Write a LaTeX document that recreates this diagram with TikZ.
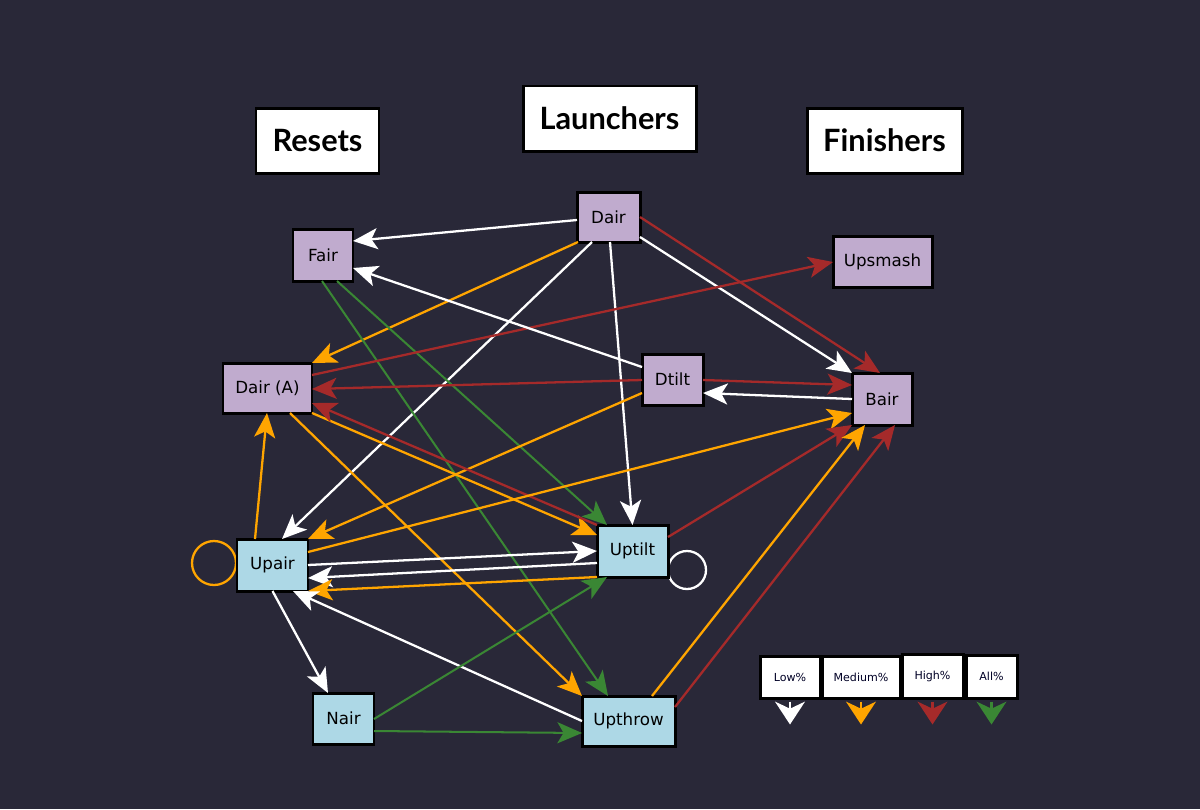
\documentclass[tikz,border=0pt]{standalone}
\usepackage{fontspec}
\setmainfont{DejaVu Sans}
\newfontfamily\hdrfont{Lato}
\usetikzlibrary{arrows.meta}
\definecolor{bgc}{RGB}{41,40,56}
\definecolor{lav}{RGB}{192,171,206}
\definecolor{lblue}{RGB}{173,216,230}
\definecolor{eorange}{RGB}{255,165,0}
\definecolor{ered}{RGB}{165,42,42}
\definecolor{egreen}{RGB}{58,135,52}
\pgfdeclarelayer{bg}
\pgfsetlayers{bg,main}
\begin{document}
\begin{tikzpicture}[x=0.02cm,y=-0.02cm,
  box/.style 2 args={draw=black,line width=1.7pt,inner sep=0pt,minimum width=#1*0.02cm,minimum height=#2*0.02cm,font=\fontsize{9.5}{11}\selectfont,text=black},
  launch/.style={fill=lav},
  reset/.style={fill=lblue},
  header/.style={fill=white,font=\hdrfont\bfseries\fontsize{17.5}{21}\selectfont},
  legendbox/.style={fill=white,font=\fontsize{6.3}{7}\selectfont,text=black!85!blue},
  edge/.style={line width=1.3pt,-{Stealth[length=14pt,width=12pt,inset=3.5pt]}},
  lowE/.style={edge,draw=white},
  medE/.style={edge,draw=eorange},
  highE/.style={edge,draw=ered},
  allE/.style={edge,draw=egreen,line width=1.15pt},
  legarrow/.style={line width=1.4pt,-{Stealth[length=13pt,width=17pt,inset=4pt]}},
  loopline/.style={line width=1.3pt}
]
\useasboundingbox (0,0) rectangle (1200,809);
\begin{pgfonlayer}{bg}
\fill[bgc] (0,0) rectangle (1200,809);
\end{pgfonlayer}

% headers
\node[box={123}{65},header] (Resets) at (317.5,140.5) {Resets};
\node[box={173}{65},header] (Launchers) at (609.5,118.5) {Launchers};
\node[box={155}{65},header] (Finishers) at (884.5,140.5) {Finishers};

% move nodes
\node[box={63}{50},launch] (Dair) at (608.5,217) {Dair};
\node[box={60}{52},launch] (Fair) at (323,255) {Fair};
\node[box={99}{51},launch] (Upsmash) at (882.5,261.5) {Upsmash};
\node[box={89}{50},launch] (DairA) at (267.5,388) {Dair (A)};
\node[box={61}{51},launch] (Dtilt) at (672.5,379.5) {Dtilt};
\node[box={60}{52},launch] (Bair) at (882,399) {Bair};
\node[box={71}{52},reset] (Upair) at (272.5,565) {Upair};
\node[box={71}{52},reset] (Uptilt) at (632.5,551) {Uptilt};
\node[box={61}{51},reset] (Nair) at (343.5,718.5) {Nair};
\node[box={93}{50},reset] (Upthrow) at (628.5,721) {Upthrow};

% legend
\node[box={60}{42},legendbox] (Low) at (790,677) {Low\%};
\node[box={78}{42},legendbox] (Medium) at (861,677) {Medium\%};
\node[box={61}{44},legendbox] (High) at (932.5,676) {High\%};
\node[box={51}{43},legendbox] (All) at (991.5,676.5) {All\%};
\draw[legarrow,white] ([shift={(0,2)}]Low.south) -- ([shift={(0,25)}]Low.south);
\draw[legarrow,eorange] ([shift={(0,2)}]Medium.south) -- ([shift={(0,25)}]Medium.south);
\draw[legarrow,ered] ([shift={(0,2)}]High.south) -- ([shift={(0,25)}]High.south);
\draw[legarrow,egreen] ([shift={(0,2)}]All.south) -- ([shift={(0,25)}]All.south);

% loops
\begin{pgfonlayer}{bg}
\draw[loopline,eorange] ([shift={(-58.5,-2)}]Upair.center) circle[radius=0.44cm];
\draw[loopline,white] ([shift={(54.5,19)}]Uptilt.center) circle[radius=0.38cm];
\end{pgfonlayer}

% edges
\draw[lowE] ([shift={(-31.5,3)}]Dair.center) -- ([shift={(30,-14)}]Fair.center);
\draw[medE] ([shift={(-30.5,25)}]Dair.center) -- ([shift={(44.5,-25)}]DairA.center);
\draw[lowE] ([shift={(-16.5,25)}]Dair.center) -- ([shift={(9.5,-26)}]Upair.center);
\draw[lowE] ([shift={(1.5,25)}]Dair.center) -- ([shift={(0,-26)}]Uptilt.center);
\draw[lowE] ([shift={(31.5,20)}]Dair.center) -- ([shift={(-30,-26)}]Bair.center);
\draw[highE] ([shift={(31.5,0)}]Dair.center) -- ([shift={(-2,-26)}]Bair.center);
\draw[allE] ([shift={(14,26)}]Fair.center) -- ([shift={(-25.5,-26)}]Uptilt.center);
\draw[allE] ([shift={(-1,26)}]Fair.center) -- ([shift={(-20.5,-25)}]Upthrow.center);
\draw[highE] ([shift={(44.5,-13)}]DairA.center) -- ([shift={(-49.5,0.5)}]Upsmash.center);
\draw[lowE] ([shift={(-30.5,-12.5)}]Dtilt.center) -- ([shift={(30,13)}]Fair.center);
\draw[highE] ([shift={(-30.5,0.5)}]Dtilt.center) -- ([shift={(44.5,1)}]DairA.center);
\draw[highE] ([shift={(30.5,0.5)}]Dtilt.center) -- ([shift={(-30,-14)}]Bair.center);
\draw[lowE] ([shift={(-30,0)}]Bair.center) -- ([shift={(30.5,13.5)}]Dtilt.center);
\draw[medE] ([shift={(-30.5,13.5)}]Dtilt.center) -- ([shift={(35.5,-26)}]Upair.center);
\draw[medE] ([shift={(44.5,25)}]DairA.center) -- ([shift={(-35.5,-16)}]Uptilt.center);
\draw[highE] ([shift={(-35.5,-26)}]Uptilt.center) -- ([shift={(44.5,15)}]DairA.center);
\draw[medE] ([shift={(22.5,25)}]DairA.center) -- ([shift={(-46.5,-25)}]Upthrow.center);
\draw[medE] ([shift={(-17.5,-26)}]Upair.center) -- ([shift={(-0.5,25)}]DairA.center);
\draw[medE] ([shift={(35.5,-13)}]Upair.center) -- ([shift={(-30,14)}]Bair.center);
\draw[lowE] ([shift={(35.5,0)}]Upair.center) -- ([shift={(-35.5,0)}]Uptilt.center);
\draw[lowE] ([shift={(-35.5,12)}]Uptilt.center) -- ([shift={(35.5,13)}]Upair.center);
\draw[medE] ([shift={(-35.5,26)}]Uptilt.center) -- ([shift={(35.5,26)}]Upair.center);
\draw[highE] ([shift={(35.5,-14)}]Uptilt.center) -- ([shift={(-30,26)}]Bair.center);
\draw[medE] ([shift={(23.5,-25)}]Upthrow.center) -- ([shift={(-17,26)}]Bair.center);
\draw[highE] ([shift={(46.5,-14)}]Upthrow.center) -- ([shift={(13,26)}]Bair.center);
\draw[lowE] ([shift={(-46.5,0)}]Upthrow.center) -- ([shift={(20.5,26)}]Upair.center);
\draw[lowE] ([shift={(0,26)}]Upair.center) -- ([shift={(-15.5,-25.5)}]Nair.center);
\draw[allE] ([shift={(30.5,0.5)}]Nair.center) -- ([shift={(-25.5,26)}]Uptilt.center);
\draw[allE] ([shift={(30.5,12.5)}]Nair.center) -- ([shift={(-46.5,12)}]Upthrow.center);
\end{tikzpicture}
\end{document}
